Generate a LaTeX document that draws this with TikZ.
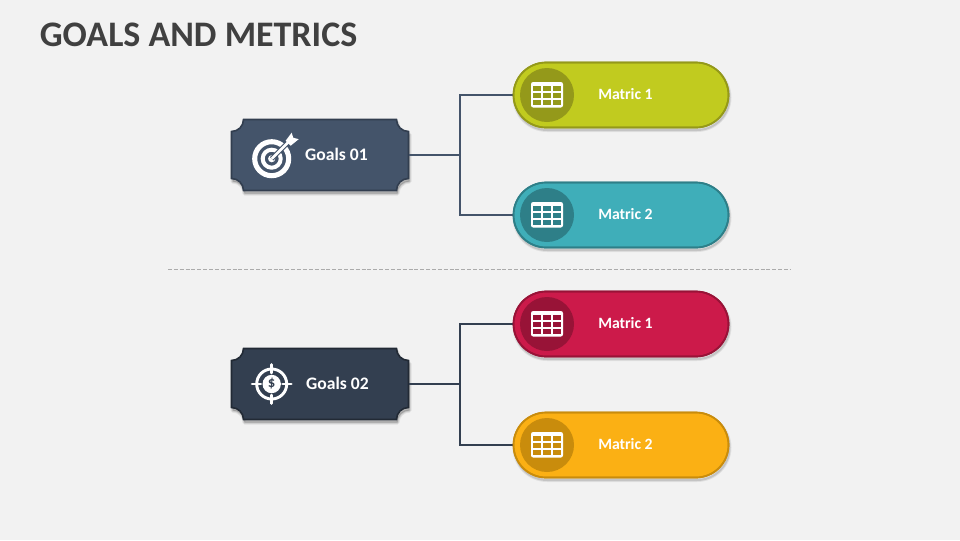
\documentclass[tikz,border=0pt]{standalone}
\usepackage{fontspec}
\setmainfont{Carlito}
\usetikzlibrary{calc}
\definecolor{bgc}{HTML}{F2F2F2}
\definecolor{titlec}{HTML}{404040}
\definecolor{lineA}{HTML}{44546A}
\definecolor{lineB}{HTML}{333F50}
\definecolor{edgeA}{HTML}{323E4F}
\definecolor{edgeB}{HTML}{222A35}
\definecolor{oliveF}{HTML}{C1CB1F}
\definecolor{oliveE}{HTML}{94991A}
\definecolor{tealF}{HTML}{3FAEB9}
\definecolor{tealE}{HTML}{2E7F88}
\definecolor{redF}{HTML}{CC1A4A}
\definecolor{redE}{HTML}{981337}
\definecolor{amberF}{HTML}{FBB014}
\definecolor{amberE}{HTML}{C98C0C}
\definecolor{dashc}{HTML}{ABABAB}
\tikzset{
  x=0.75pt,y=-0.75pt,
  anchorbox/.style={inner sep=0pt,outer sep=0pt,minimum width=177*0.75pt,minimum height=71*0.75pt},
  pillanchor/.style={inner sep=0pt,outer sep=0pt,minimum width=215*0.75pt,minimum height=65*0.75pt},
  labelgoal/.style={text=white,font=\bfseries\fontsize{13.2pt}{15pt}\selectfont,inner sep=0pt},
  labelmet/.style={text=white,font=\bfseries\fontsize{11.8pt}{14pt}\selectfont,inner sep=0pt},
  conn/.style={line width=1.5pt},
  pilledge/.style={line width=1.25pt,rounded corners=32.5*0.75pt},
}
\newcommand{\ticketpath}[2]{% center x, center y
  (#1-88.5+12,#2-35.5) -- (#1+88.5-12,#2-35.5) arc[start angle=180,end angle=270,radius=12*0.75pt]
  -- (#1+88.5,#2+35.5-12) arc[start angle=90,end angle=180,radius=12*0.75pt]
  -- (#1-88.5+12,#2+35.5) arc[start angle=0,end angle=90,radius=12*0.75pt]
  -- (#1-88.5,#2-35.5+12) arc[start angle=270,end angle=360,radius=12*0.75pt] -- cycle}
\newcommand{\ticket}[5]{% name, cx, cy, fill, edge
  \begin{scope}[shift={(1,3)}]
    \draw[black,opacity=0.07,line width=3pt,line join=round] \ticketpath{#2}{#3};
    \draw[black,opacity=0.10,line width=1.5pt,line join=round,fill=black,fill opacity=0.2] \ticketpath{#2}{#3};
  \end{scope}
  \draw[fill=#4,draw=#5,line width=1.2pt] \ticketpath{#2}{#3};
  \node[anchorbox] (#1) at (#2,#3) {};
}
\newcommand{\gridicon}[3]{% cx cy cellcolor
  \fill[white,rounded corners=1.6pt] (#1-16,#2-13) rectangle (#1+16,#2+12.5);
  \foreach \i in {0,1,2}{\foreach \j in {0,1,2}{
    \fill[#3] ($(#1-13.7+\i*9.8,#2-8.7+\j*7)$) rectangle ++(7.6,4.6);
  }}
}
\newcommand{\pill}[5]{% name, cy, fill, edge, label
  \begin{scope}[shift={(1,2.5)}]
    \draw[black,opacity=0.07,line width=3pt,rounded corners=32.5*0.75pt] (513.5,#2-32.5) rectangle (728.5,#2+32.5);
    \draw[black,opacity=0.12,line width=1.5pt,rounded corners=32.5*0.75pt] (513.5,#2-32.5) rectangle (728.5,#2+32.5);
  \end{scope}
  \draw[fill=#3,draw=#4,pilledge] (513.5,#2-32.5) rectangle (728.5,#2+32.5);
  \node[pillanchor] (#1) at (621,#2) {};
  \node[circle,fill=#4,minimum size=54*0.75pt,inner sep=0pt] (#1c) at (547,#2) {};
  \gridicon{547}{#2}{#4}
  \node[labelmet] (#1t) at (625.5,#2-0.8) {#5};
}
\begin{document}
\begin{tikzpicture}
\useasboundingbox (0,0) rectangle (960,540);
\fill[bgc] (0,0) rectangle (960,540);
\node[anchor=west,text=titlec,inner sep=0pt,font=\bfseries\fontsize{26.95pt}{30pt}\selectfont] (title) at (39.5,34.5) {GOALS AND METRICS};
\draw[dashc,line width=0.9pt,dash pattern=on 3pt off 1.4pt] (168,269.5) coordinate (dl) -- (790,269.5) coordinate (dr);

% nodes
\pill{mA}{95}{oliveF}{oliveE}{Matric 1}
\pill{mB}{215}{tealF}{tealE}{Matric 2}
\pill{mC}{324}{redF}{redE}{Matric 1}
\pill{mD}{445}{amberF}{amberE}{Matric 2}
\ticket{gA}{320}{155}{lineA}{edgeA}
\ticket{gB}{320}{384}{lineB}{edgeB}
\node[labelgoal] (gAt) at (336.5,154) {Goals 01};
\node[labelgoal] (gBt) at (337.5,383) {Goals 02};

% connectors
\draw[lineA,conn] (gA.east) -- (460,155) coordinate (jA);
\draw[lineA,conn] (mA.west) -| (jA);
\draw[lineA,conn] (mB.west) -| (jA);
\draw[lineB,conn] (gB.east) -- (460,384) coordinate (jB);
\draw[lineB,conn] (mC.west) -| (jB);
\draw[lineB,conn] (mD.west) -| (jB);
% redraw pill edge over connector ends
\foreach \y/\c in {95/oliveE,215/tealE,324/redE,445/amberE}{
  \draw[\c,pilledge] (513.5,\y-32.5) rectangle (728.5,\y+32.5);
}

% target icon
\begin{scope}[shift={(271.7,158.7)}]
  \draw[white,line width=3.8pt] (0,0) circle (17);
  \draw[white,line width=3pt] (0,0) circle (9);
  \fill[white] (0,0) circle (3.6);
  \draw[lineA,line width=3.6pt] (0,0) -- (19,-19);
  \draw[white,line width=2pt] (0,0) -- (19,-19);
  \fill[white] (14,-18) -- (20,-26) -- (21.5,-21) -- (27,-19.5) -- (19,-13) -- cycle;
\end{scope}

% dollar icon
\begin{scope}[shift={(271.7,384)}]
  \draw[white,line width=2.2pt] (0,0) circle (15);
  \fill[white] (0,0) circle (9.2);
  \draw[white,line width=2.2pt,line cap=round] (0,-19.5) -- (0,-11) (0,11) -- (0,19.5) (-19.5,0) -- (-11,0) (11,0) -- (19.5,0);
  \node[inner sep=0pt,text=lineB,font=\bfseries\fontsize{11pt}{12pt}\selectfont] (dollar) at (0,0) {\$};
\end{scope}
\end{tikzpicture}
\end{document}
